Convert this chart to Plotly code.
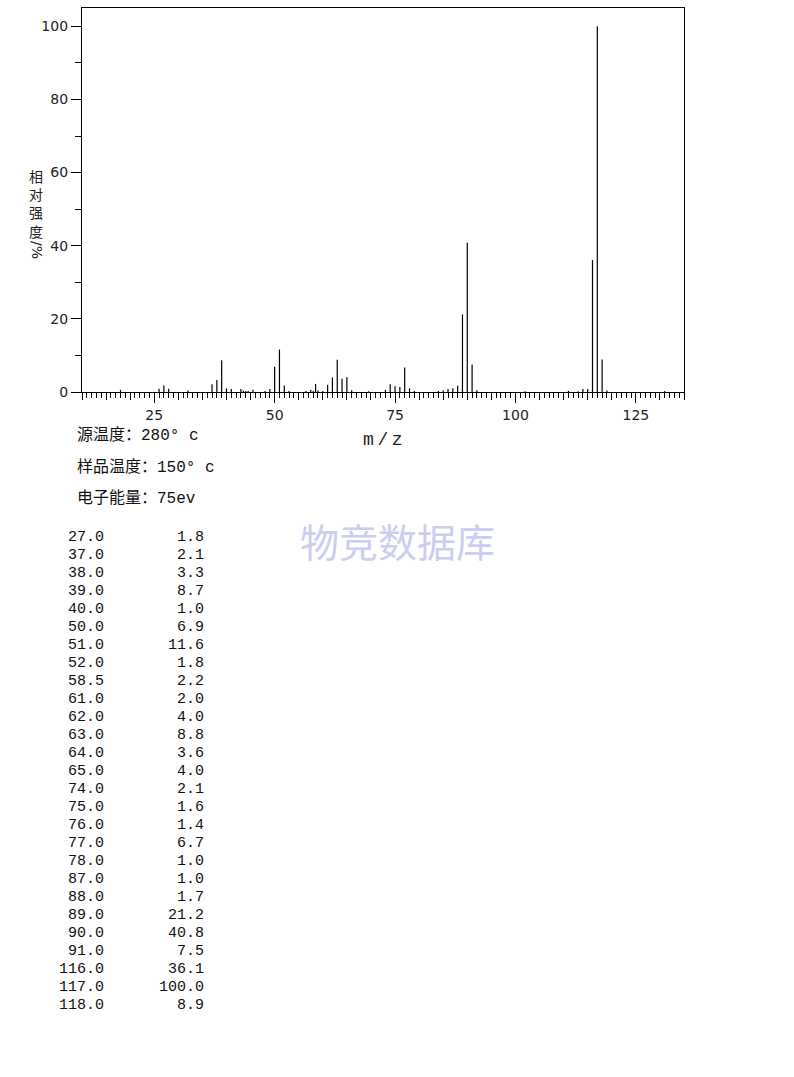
import plotly.graph_objects as go

# Listed peaks (m/z, relative intensity %)
table_mz = [27.0, 37.0, 38.0, 39.0, 40.0, 50.0, 51.0, 52.0, 58.5, 61.0, 62.0, 63.0, 64.0,
            65.0, 74.0, 75.0, 76.0, 77.0, 78.0, 87.0, 88.0, 89.0, 90.0, 91.0, 116.0, 117.0, 118.0]
table_int = [1.8, 2.1, 3.3, 8.7, 1.0, 6.9, 11.6, 1.8, 2.2, 2.0, 4.0, 8.8, 3.6,
             4.0, 2.1, 1.6, 1.4, 6.7, 1.0, 1.0, 1.7, 21.2, 40.8, 7.5, 36.1, 100.0, 8.9]

# Minor peaks visible in the spectrum (estimated)
small_mz = [18, 26, 28, 32, 41, 43, 43.5, 44, 44.5, 45.5, 48, 49, 53, 56.5, 57.5, 58, 59, 60,
            66, 69.5, 73, 79, 84, 85, 86, 92, 102, 111, 113, 114, 115, 119, 131]
small_int = [0.6, 0.9, 0.9, 0.4, 0.8, 0.8, 0.35, 0.3, 0.3, 0.6, 0.3, 0.8, 0.3, 0.3, 0.6, 0.3, 0.4, 0.3,
             0.5, 0.2, 0.6, 0.3, 0.3, 0.5, 0.8, 0.5, 0.2, 0.3, 0.2, 0.8, 0.8, 0.4, 0.25]

info_lines = ["源温度：280° c", "样品温度：150° c", "电子能量：75ev"]

W, H = 794, 1077
L, R, T, B = 82, 684, 8, 392


def px(xp):
    return (xp - L) / (R - L)


def py(yp):
    return (B - yp) / (B - T)


all_mz = table_mz + small_mz
all_int = table_int + small_int
xs, ys = [], []
for m, v in zip(all_mz, all_int):
    xs += [m, m, None]
    ys += [0, v, None]

fig = go.Figure()
fig.add_trace(go.Scatter(x=xs, y=ys, mode="lines", line=dict(color="black", width=1.2),
                         hoverinfo="skip", showlegend=False))
fig.add_trace(go.Scatter(x=[], y=[], xaxis="x2", showlegend=False))

tickfont = dict(family="DejaVu Sans", size=14, color="#222")

fig.update_layout(
    width=W, height=H,
    margin=dict(l=L, r=W - R, t=T, b=H - B, pad=0),
    paper_bgcolor="white", plot_bgcolor="white",
    xaxis=dict(range=[10, 135], tick0=0, dtick=25, ticks="outside", ticklen=10, tickwidth=1,
               tickcolor="black", showline=True, linecolor="black", linewidth=1.3, mirror=True,
               showgrid=False, zeroline=False, tickfont=tickfont,
               minor=dict(dtick=1, tick0=0, ticks="outside", ticklen=5, tickwidth=1,
                          tickcolor="black", showgrid=False)),
    xaxis2=dict(range=[10, 135], overlaying="x", anchor="y", side="bottom", tick0=0, dtick=5,
                ticks="outside", ticklen=7, tickwidth=1, tickcolor="black",
                showticklabels=False, showgrid=False, zeroline=False, showline=False),
    yaxis=dict(range=[0, 105], tick0=0, dtick=20, ticks="outside", ticklen=10, tickwidth=1,
               tickcolor="black", showline=True, linecolor="black", linewidth=1.3, mirror=True,
               showgrid=False, zeroline=False, tickfont=tickfont,
               minor=dict(dtick=10, tick0=0, ticks="outside", ticklen=6, tickwidth=1,
                          tickcolor="black", showgrid=False)),
)

ann = []
# y-axis title (vertical stacked)
ann.append(dict(text="相<br>对<br>强<br>度", x=px(36), y=py(203), xref="paper", yref="paper",
                showarrow=False, xanchor="center", yanchor="middle",
                font=dict(family="Noto Sans CJK SC", size=14, color="#222")))
ann.append(dict(text="/%", x=px(37), y=py(250), xref="paper", yref="paper", showarrow=False,
                xanchor="center", yanchor="middle", textangle=90,
                font=dict(family="DejaVu Sans", size=14, color="#222")))
# x-axis title
ann.append(dict(text="m\u2009/\u2009z", x=px(383), y=py(440), xref="paper", yref="paper",
                showarrow=False, xanchor="center", yanchor="middle",
                font=dict(family="Liberation Mono", size=18, color="#222")))
# info lines
for t, yc in zip(info_lines, [435, 467, 498]):
    ann.append(dict(text=t, x=px(75), y=py(yc), xref="paper", yref="paper", showarrow=False,
                    xanchor="left", yanchor="middle",
                    font=dict(family="Liberation Mono, Noto Sans CJK SC", size=16, color="#111")))
# watermark
ann.append(dict(text="物竞数据库", x=px(397), y=py(540), xref="paper", yref="paper", showarrow=False,
                xanchor="center", yanchor="middle",
                font=dict(family="Noto Sans CJK SC", size=39, color="#cdcdef")))
# peak table
for i, (m, v) in enumerate(zip(table_mz, table_int)):
    yc = 537 + 18 * i
    ann.append(dict(text=f"{m:.1f}", x=px(106), y=py(yc), xref="paper", yref="paper",
                    showarrow=False, xanchor="right", yanchor="middle",
                    font=dict(family="Liberation Mono", size=15, color="#111")))
    ann.append(dict(text=f"{v:.1f}", x=px(206), y=py(yc), xref="paper", yref="paper",
                    showarrow=False, xanchor="right", yanchor="middle",
                    font=dict(family="Liberation Mono", size=15, color="#111")))

fig.update_layout(annotations=ann)
fig.write_html("out.html", config={"displayModeBar": False},
               post_script="document.body.style.margin='0px';document.body.style.overflow='hidden';")
